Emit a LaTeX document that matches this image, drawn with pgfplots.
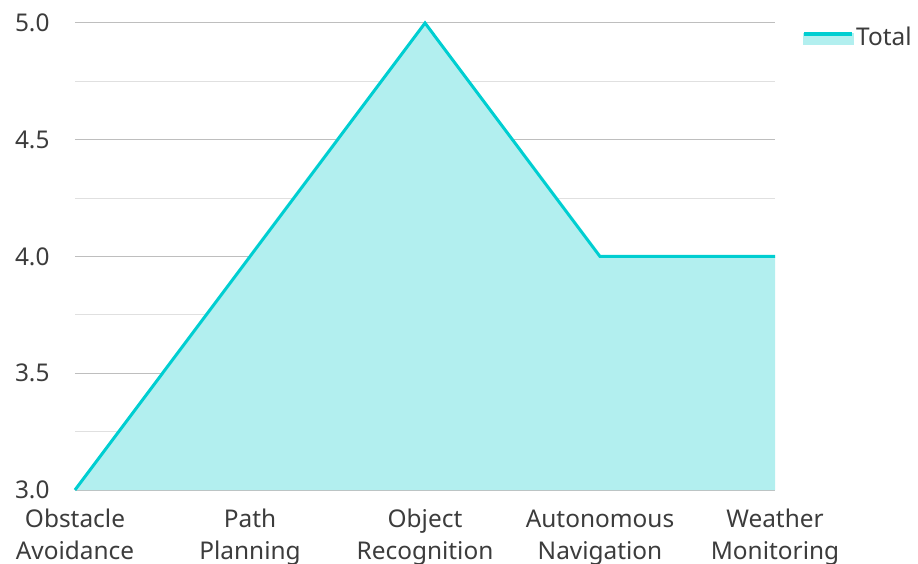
\documentclass[border=0pt]{standalone}
\usepackage{pgfplots}
\pgfplotsset{compat=1.18}
\usepackage{fontspec}
\setmainfont{Noto Sans}
\definecolor{turq}{RGB}{0,206,209}
\definecolor{turqfill}{RGB}{178,239,239}
\definecolor{majgrid}{RGB}{190,190,190}
\definecolor{mingrid}{RGB}{224,224,224}
\definecolor{labgray}{RGB}{60,60,60}
\begin{document}
\begin{tikzpicture}
\useasboundingbox (-75bp,-74bp) rectangle (843bp,490bp);
\begin{axis}[
  at={(0,0)}, anchor=south west,
  scale only axis, width=700bp, height=467bp,
  xmin=0, xmax=4, ymin=3, ymax=5,
  xtick={0,1,2,3,4},
  xticklabels={Obstacle\strut\\Avoidance\strut,Path\strut\\Planning\strut,Object\strut\\Recognition\strut,Autonomous\strut\\Navigation\strut,Weather\strut\\Monitoring\strut},
  xticklabel style={align=center, text=labgray, font=\fontsize{24.5}{32}\selectfont, yshift=-12bp},
  ytick={3,3.5,4,4.5,5},
  minor ytick={3.25,3.75,4.25,4.75},
  yticklabel style={text=labgray, font=\fontsize{24.5}{28}\selectfont, xshift=-22bp},
  yticklabel={\pgfmathprintnumber[fixed,fixed zerofill,precision=1]{\tick}},
  /pgf/number format/assume math mode=true,
  ymajorgrids, yminorgrids,
  major grid style={majgrid, line width=1pt},
  minor grid style={mingrid, line width=1pt},
  axis x line*=bottom, axis y line*=left,
  x axis line style={majgrid, line width=1.5pt, -},
  y axis line style={draw=none},
  major tick length=0pt, minor tick length=0pt,
  xtick style={draw=none}, ytick style={draw=none},
  clip=false,
  legend style={at={(1.035,1.0)}, anchor=north west, draw=none, fill=none,
    font=\fontsize{24.5}{28}\selectfont, text=labgray,
    legend cell align=left},
  legend image code/.code={
    \fill[turqfill] (0bp,-6bp) rectangle (48bp,3bp);
    \draw[turq, line width=3.5bp] (0bp,3bp) -- (48bp,3bp);
  },
]
\addplot[draw=none, fill=turqfill, forget plot] coordinates {
  (0,3) (1,4) (2,5) (3,4) (4,4)
} \closedcycle;
\addplot[turq, line width=3bp] coordinates {
  (0,3) (1,4) (2,5) (3,4) (4,4)
};
\addlegendentry{Total}
\end{axis}
\end{tikzpicture}
\end{document}
